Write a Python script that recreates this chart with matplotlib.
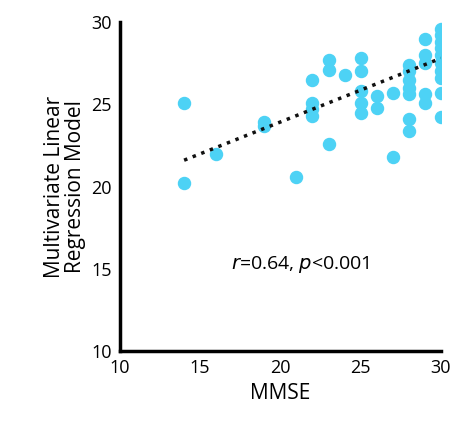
import numpy as np
import matplotlib
matplotlib.use("Agg")
import matplotlib.pyplot as plt

plt.rcParams['font.family'] = ['Open Sans', 'DejaVu Sans']

mmse = [14, 14, 16, 19, 19, 21, 22, 22, 22, 22, 23, 23, 23, 24,
        25, 25, 25, 25, 25, 26, 26, 27, 27,
        28, 28, 28, 28, 28, 28, 28,
        29, 29, 29, 29, 29,
        30, 30, 30, 30, 30, 30, 30, 30, 30, 30]
model = [25.1, 20.2, 22.0, 23.9, 23.7, 20.6, 26.5, 25.1, 24.7, 24.3, 27.7, 27.1, 22.6, 26.8,
         27.8, 27.0, 25.8, 25.1, 24.5, 25.5, 24.8, 25.7, 21.8,
         27.4, 27.0, 26.5, 26.0, 25.6, 24.1, 23.4,
         29.0, 28.0, 27.5, 25.6, 25.1,
         29.6, 29.2, 28.8, 28.4, 28.0, 27.5, 27.0, 26.6, 25.7, 24.2]

# trend line as drawn in the figure
trend_x = [14, 30]
trend_y = [21.6, 27.8]

fig = plt.figure(figsize=(4.74, 4.43), dpi=100)
ax = fig.add_axes([0.253, 0.208, 0.677, 0.742])

ax.scatter(mmse, model, s=75, color='#4dd2f5', zorder=2)
ax.plot(trend_x, trend_y, ':', color='#111111', lw=2.5, zorder=3)

ax.set_xlim(10, 30)
ax.set_ylim(10, 30)
ax.set_xticks([10, 15, 20, 25, 30])
ax.set_yticks([10, 15, 20, 25, 30])
ax.tick_params(length=0, labelsize=13, pad=6)
for s in ['top', 'right']:
    ax.spines[s].set_visible(False)
for s in ['left', 'bottom']:
    ax.spines[s].set_linewidth(2.5)
ax.set_xlabel('MMSE', fontsize=15)
ax.set_ylabel('Multivariate Linear\nRegression Model', fontsize=15, linespacing=1.0)
ax.text(16.9, 15.0, r'$\it{r}$=0.64, $\it{p}$<0.001', fontsize=14)

fig.savefig('out.png', dpi=100)
